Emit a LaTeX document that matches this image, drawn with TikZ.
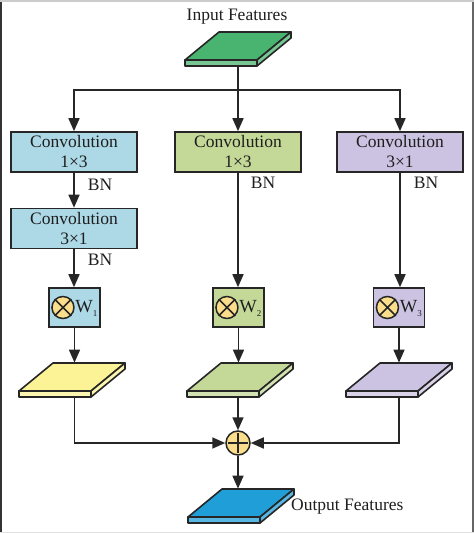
\documentclass[tikz,border=0pt]{standalone}
\usepackage{fontspec}
\setmainfont{Liberation Serif}
\usetikzlibrary{arrows.meta}
\definecolor{cblue}{RGB}{173,216,230}
\definecolor{cgreen}{RGB}{196,217,152}
\definecolor{cpurple}{RGB}{204,195,226}
\definecolor{cyellow}{RGB}{252,243,150}
\definecolor{cin}{RGB}{72,180,112}
\definecolor{cout}{RGB}{32,158,216}
\definecolor{corange}{RGB}{250,222,140}
\definecolor{ctext}{RGB}{30,30,30}
\newcommand{\slabdraw}[4]{%
  \filldraw[fill=#4, draw=black!85, line width=1.6pt, line join=round] (#2,#3) -- ++(72,0) -- ++(34,-28) -- ++(-72,0) -- cycle;
  \filldraw[fill=#4!75!white, draw=black!85, line width=1.6pt, line join=round] (#2,#3) rectangle ++(72,6);
  \filldraw[fill=#4!75!white, draw=black!85, line width=1.6pt, line join=round] (#2+72,#3) -- ++(34,-28) -- ++(0,6) -- ++(-34,28) -- cycle;
  \node[inner sep=0, minimum width=106pt, minimum height=34pt, anchor=south west] (#1) at (#2,#3+6) {};
}
\begin{document}
\begin{tikzpicture}[x=1pt, y=-1pt,
  txt/.style={text=ctext, font=\fontsize{17.5}{20}\selectfont, inner sep=0},
  convbox/.style={draw=black!85, line width=1.6pt, minimum width=126pt, minimum height=40pt, inner sep=0, align=center, text=ctext, font=\fontsize{17.5}{20}\selectfont},
  wbox/.style={draw=black!85, line width=1.6pt, minimum width=51pt, minimum height=39pt, inner sep=0},
  opcircle/.style={circle, draw=black!85, line width=1.5pt, fill=corange, minimum size=22pt, inner sep=0},
  conn/.style={line width=1.7pt, draw=black!85},
  arr/.style={conn, -{Triangle[length=13pt,width=11pt]}},
  bn/.style={txt, anchor=west}
]
\useasboundingbox (0,0) rectangle (474,533);
% frame
\draw[line width=2.5pt, black!80] (1.2,0) -- (1.2,533);
\draw[line width=2pt, black!60] (472.8,0) -- (472.8,533);
\draw[line width=1.5pt, black!20] (0,0.8) -- (474,0.8);
\draw[line width=1pt, black!12] (0,532.5) -- (474,532.5);

% input
\node[txt] (intxt) at (237,17) {Input Features};
\slabdraw{inslab}{185}{60}{cin}
\coordinate (split) at (238,90);

% boxes
\node[convbox, fill=cblue] (c1a) at (74,152) {Convolution\\1×3};
\node[convbox, fill=cblue] (c1b) at (74,228.5) {Convolution\\3×1};
\node[convbox, fill=cgreen] (c2) at (238,152) {Convolution\\1×3};
\node[convbox, fill=cpurple] (c3) at (400,152) {Convolution\\3×1};

% W boxes
\node[wbox, fill=cblue] (w1) at (74.5,307.5) {};
\node[wbox, fill=cgreen] (w2) at (238.5,307.5) {};
\node[wbox, fill=cpurple] (w3) at (399,307.5) {};
\foreach \w/\i in {w1/1,w2/2,w3/3}{
  \node[opcircle, anchor=west] (\w c) at ([xshift=3pt]\w.west) {};
  \draw[line width=1.5pt, black!85] (\w c.north west) -- (\w c.south east) (\w c.north east) -- (\w c.south west);
  \node[txt, anchor=west, font=\fontsize{18.5}{20}\selectfont] (\w t) at ([xshift=0.5pt,yshift=-1pt]\w c.east) {W\raisebox{-0.4ex}{\fontsize{9}{9}\selectfont\i}};
}

% slabs
\slabdraw{s1}{19}{391}{cyellow}
\slabdraw{s2}{187}{391}{cgreen}
\slabdraw{s3}{346}{391}{cpurple}

% sum
\node[opcircle, minimum size=24pt] (sum) at (238,443) {};
\draw[line width=1.1pt, black!85] ([yshift=-10pt]sum.center) -- ([yshift=10pt]sum.center) ([xshift=-10pt]sum.center) -- ([xshift=10pt]sum.center);

% output
\slabdraw{outslab}{188}{517}{cout}
\node[txt, anchor=west] (outtxt) at (291,507) {Output Features};

% connectors
\draw[conn] (inslab.south -| split) -- (split);
\draw[arr] (split) -| (c1a.north);
\draw[arr] (split) -| (c3.north);
\draw[arr] (split) -- (c2.north);
\draw[arr] (c1a) -- (c1b) node[bn, pos=0.35, xshift=13pt] (bn1) {BN};
\draw[arr] (c1b) -- (w1.north -| c1b) node[bn, pos=0.27, xshift=13pt] (bn2) {BN};
\draw[arr] (c2) -- (w2.north -| c2) node[bn, pos=0.09, xshift=12pt] (bn3) {BN};
\draw[arr] (c3) -- (w3.north -| c3) node[bn, pos=0.09, xshift=13pt] (bn4) {BN};
\draw[arr] (w1) -- (w1.south |- s1.north);
\draw[arr] (w2) -- (w2.south |- s2.north);
\draw[arr] (w3) -- (w3.south |- s3.north);
\draw[arr] (s1.south -| w1) |- (sum.west);
\draw[arr] (s3.south -| w3) |- (sum.east);
\draw[arr] (s2.south -| sum) -- (sum.north);
\draw[arr] (sum.south) -- (sum.south |- outslab.north);
\end{tikzpicture}
\end{document}
